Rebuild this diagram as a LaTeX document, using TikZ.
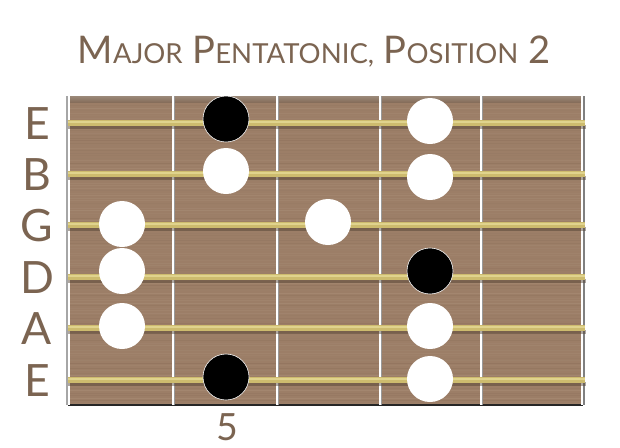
\documentclass[tikz,border=0pt]{standalone}
\usepackage{fontspec}
\setmainfont{Lato}
\usepackage{xcolor}
\usepackage{tikz}
\usetikzlibrary{positioning}

\definecolor{woodbrown}{HTML}{9C7E67}
\definecolor{woodlight}{HTML}{AA8F78}
\definecolor{wooddark}{HTML}{8C6F59}
\definecolor{labelbrown}{HTML}{7B6451}
\definecolor{stringgold}{HTML}{CDBB6E}
\definecolor{stringlight}{HTML}{E0D38D}
\definecolor{stringshadow}{HTML}{4E3C2E}

\newcommand{\scword}[2]{{\fontsize{32.5}{32.5}\selectfont #1}{\fontsize{23.5}{23.5}\selectfont #2}}

\begin{document}
\begin{tikzpicture}[x=0.03cm,y=-0.03cm]
\tikzstyle{stringlabel}=[text=labelbrown,font=\fontsize{38}{38}\selectfont,inner sep=0pt];
\tikzstyle{whitedot}=[circle,fill=white,inner sep=0pt,minimum size=1.38cm];
\tikzstyle{blackdot}=[circle,fill=black,draw=white,line width=0.5pt,inner sep=0pt,minimum size=1.38cm];
\useasboundingbox (0,0) rectangle (620,447);
% board with grain
\fill[woodbrown] (68,96) rectangle (583,405);
\pgfmathsetseed{11}
\foreach \y in {98,100.5,...,404}{
  \pgfmathsetmacro{\grain}{int(rnd*100)}
  \draw[wooddark!\grain!woodlight,line width=0.45pt,opacity=0.5] (68,\y) -- (583,\y);
}
\fill[top color=woodlight!80!white,bottom color=woodbrown,opacity=0.8] (68,96) rectangle (583,103);
\draw[black!85,line width=1.6pt] (68,405) -- (583,405);
% nut and end of the board
\draw[gray!70,line width=1pt] (67,96) -- (67,405);
\draw[white,line width=1.3pt] (69,96) -- (69,405);
\draw[gray,line width=1pt] (584,96) -- (584,405);
\draw[white,line width=1.2pt] (582,96) -- (582,405);
% frets
\foreach \x in {173,277,380,481}{
  \draw[gray!80,line width=1pt] (\x+1.6,96) -- (\x+1.6,405);
  \draw[white,line width=1.4pt] (\x,96) -- (\x,405);
}
% strings
\foreach \y in {123,174,225,277,328,380}{
  \draw[stringshadow,opacity=0.45,line width=3pt] (68,\y+4) -- (586,\y+4);
  \draw[stringgold,line width=5.2pt] (68,\y) -- (585,\y);
  \draw[stringlight,line width=1.6pt] (68,\y-1.3) -- (585,\y-1.3);
}
% title and labels
\node[text=labelbrown,anchor=base,inner sep=0pt](title) at (314,63){\scword{M}{AJOR}\scword{ P}{ENTATONIC,}\scword{ P}{OSITION}\scword{ 2}{}};
\node[stringlabel](shigh) at (37,124){E};
\node[stringlabel](sb) at (37,175){B};
\node[stringlabel](sg) at (37,226){G};
\node[stringlabel](sd) at (37,278){D};
\node[stringlabel](sa) at (37,329){A};
\node[stringlabel](slow) at (37,381){E};
\node[text=labelbrown,anchor=base,font=\fontsize{32}{32}\selectfont,inner sep=0pt](fretfive) at (227,440){5};
% scale notes
\node[blackdot](d1) at (226,119){};
\node[whitedot](d2) at (430,121){};
\node[whitedot](d3) at (226,171){};
\node[whitedot](d4) at (430,177){};
\node[whitedot](d5) at (122,224){};
\node[whitedot](d6) at (328,222){};
\node[whitedot](d7) at (122,271){};
\node[blackdot](d8) at (430,271){};
\node[whitedot](d9) at (122,326){};
\node[whitedot](d10) at (430,326){};
\node[blackdot](d11) at (226,377){};
\node[whitedot](d12) at (430,379){};
\end{tikzpicture}
\end{document}
